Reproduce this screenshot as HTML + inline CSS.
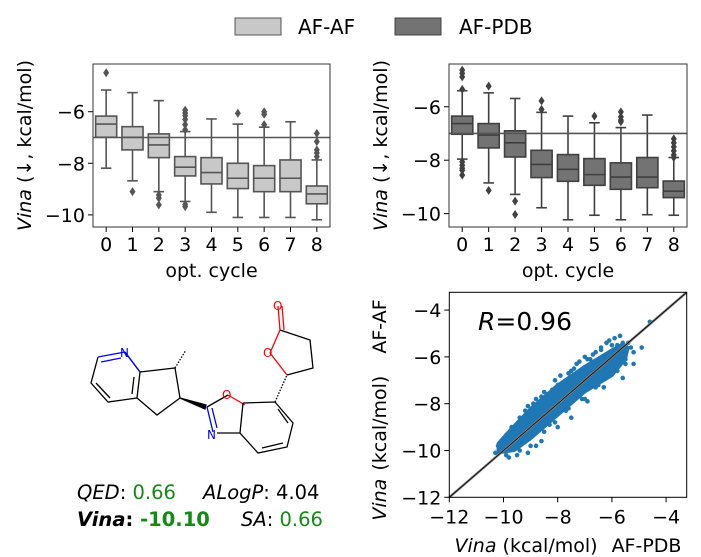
<!DOCTYPE html>
<html><head><meta charset="utf-8"><style>
body{margin:0;background:#fff;}
svg{display:block;font-family:"DejaVu Sans","Liberation Sans",sans-serif;}
</style></head><body>
<svg id="fig" width="701" height="557" viewBox="0 0 701 557" xmlns="http://www.w3.org/2000/svg">
<g>
<rect x="235" y="18" width="46" height="17" fill="#c8c8c8" stroke="#555"/>
<text x="298" y="34" font-size="20">AF-AF</text>
<rect x="395" y="18" width="46" height="17" fill="#737373" stroke="#404040"/>
<text x="459" y="34" font-size="20">AF-PDB</text>
</g>
<g id="left"></g>
<g id="right"></g>
<g id="scatter"></g>
<g stroke="#000" stroke-width="1.3" fill="none">
<polyline points="98,357 91,383 108,402 137,398 140,372 125,352" />
<line x1="98" y1="357" x2="125" y2="352" stroke="#0000ff"/>
<line x1="101" y1="362" x2="121" y2="358" stroke="#0000ff"/>
<line x1="96" y1="383" x2="110" y2="398"/>
<line x1="134" y1="377" x2="132" y2="394"/>
<line x1="125" y1="352" x2="140" y2="372" stroke="#0000ff"/>
<polyline points="140,372 175,368 180,398 157,415 137,398"/>
<path d="M175,368 L186,350" stroke-dasharray="1.5,1.5"/>
<path d="M180,398 L206,405 L205,409 Z" fill="#000"/>
<line x1="207" y1="407" x2="228" y2="395" stroke="#000"/>
<line x1="228" y1="395" x2="245" y2="405" stroke="#ff0000"/>
<line x1="207" y1="407" x2="213" y2="432" stroke="#0000ff"/>
<line x1="212" y1="408" x2="217" y2="428" stroke="#0000ff"/>
<line x1="217" y1="433" x2="240" y2="433"/>
<polyline points="243,403 275,402 293,423 287,447 258,453 240,433 243,403"/>
<line x1="278" y1="409" x2="288" y2="423"/>
<line x1="262" y1="448" x2="283" y2="443"/>
<path d="M275,402 L287,375" stroke-dasharray="1.5,1.5"/>
<polyline points="287,375 270,353" stroke="#ff0000"/>
<polyline points="287,375 313,368 310,340 280,330"/>
<line x1="280" y1="330" x2="270" y2="353" stroke="#ff0000"/>
<line x1="280" y1="330" x2="278" y2="306" stroke="#ff0000"/>
<line x1="284" y1="330" x2="282" y2="306" stroke="#ff0000"/>
</g>
<g font-size="12">
<text x="120" y="357" fill="#0000ff">N</text>
<text x="222" y="399" fill="#ff0000">O</text>
<text x="207" y="439" fill="#0000ff">N</text>
<text x="263" y="357" fill="#ff0000">O</text>
<text x="273" y="310" fill="#ff0000">O</text>
</g>
<g font-size="19.5">
<text x="77" y="499"><tspan font-style="italic">QED</tspan>: <tspan fill="#138a13">0.66</tspan></text>
<text x="203" y="499"><tspan font-style="italic">ALogP</tspan>: 4.04</text>
<text x="77" y="526" font-weight="bold"><tspan font-style="italic">Vina</tspan>: <tspan fill="#138a13">-10.10</tspan></text>
<text x="241" y="526"><tspan font-style="italic">SA</tspan>: <tspan fill="#138a13">0.66</tspan></text>
</g>
</svg>
<script>
const categories=[0,1,2,3,4,5,6,7,8];
const afafWhiskerHigh=[-5.16,-5.26,-5.57,-6.77,-6.28,-6.48,-6.6,-6.39,-7.87];
const afafQ3=[-6.17,-6.58,-6.86,-7.74,-7.78,-8.0,-8.09,-7.87,-8.88];
const afafMedian=[-6.48,-6.99,-7.29,-8.15,-8.36,-8.58,-8.58,-8.58,-9.19];
const afafQ1=[-6.99,-7.48,-7.78,-8.49,-8.8,-8.98,-9.1,-9.1,-9.57];
const afafWhiskerLow=[-8.19,-8.68,-9.1,-9.48,-9.9,-10.1,-10.1,-10.1,-10.19];
const afafOutliers=[[-4.49],[-9.1],[-9.23,-9.35,-9.61],[-5.94,-6.05,-6.15,-6.3,-6.5,-6.7,-9.6,-9.68],[],[-6.06],[-6.0,-6.1,-6.5],[],[-6.84,-7.16,-7.48,-7.6,-7.74]];
const pdbWhiskerHigh=[-5.4,-5.48,-5.69,-6.21,-6.35,-6.6,-6.78,-6.31,-7.9];
const pdbQ3=[-6.35,-6.63,-6.9,-7.63,-7.79,-7.94,-8.1,-7.9,-8.78];
const pdbMedian=[-6.63,-7.06,-7.35,-8.16,-8.34,-8.54,-8.63,-8.63,-9.16];
const pdbQ1=[-7.03,-7.54,-7.88,-8.65,-8.79,-8.94,-9.09,-9.03,-9.4];
const pdbWhiskerLow=[-7.96,-8.85,-9.28,-9.78,-10.23,-10.06,-10.23,-10.04,-10.06];
const pdbOutliers=[[-4.63,-4.75,-4.88,-5.35,-8.06,-8.19,-8.3,-8.38,-8.56],[-5.23,-9.13],[-9.53,-10.03],[-5.78,-6.1],[],[-6.35],[-6.19,-6.38,-6.5,-6.56],[],[-7.2,-7.35,-7.5,-7.65,-7.8,-7.9]];
const boxYTicks=[-6,-8,-10];
const refLine=-7;
const scatterTicks=[-12,-10,-8,-6,-4];
const cloudX=[-10.2,-9.9,-9.0,-8.0,-7.0,-6.0,-5.6,-5.4,-5.5,-6.0,-7.0,-8.0,-9.0,-9.6,-10.2];
const cloudY=[-9.7,-9.3,-8.2,-7.2,-6.4,-5.7,-5.45,-5.6,-6.1,-6.8,-7.5,-8.5,-9.5,-10.0,-10.1];
const ptsX=[-10.3,-10.2,-10.0,-9.8,-9.6,-9.5,-9.3,-9.2,-9.0,-8.9,-8.7,-8.6,-8.4,-8.2,-8.0,-7.8,-7.6,-7.4,-7.2,-7.0,-6.8,-6.6,-6.4,-6.2,-6.0,-5.8,-5.6,-5.5,-5.3,-5.2,-4.9,-4.6,-5.2,-5.6,-6.3,-6.9,-7.5,-8.0,-8.6,-9.4,-9.9,-8.3,-7.7,-7.1,-6.6,-9.1,-8.8,
 -9.7,-9.4,-9.1,-8.8,-8.5,-8.1,-7.9,-7.5,-7.3,-6.9,-6.7,-6.4,-6.1,-5.9,-5.7,-5.4,-6.5,-7.0,-7.6,-8.1,-8.5,-9.0,-9.5,-9.8,-6.2,-6.8,-7.3,-7.9,-8.4,-8.9,-9.3,-10.1,-5.5,-5.8];
const ptsY=[-10.1,-9.8,-9.5,-9.6,-9.4,-8.9,-8.8,-8.3,-8.5,-8.0,-8.1,-7.7,-7.6,-7.4,-7.2,-7.3,-6.7,-6.5,-6.2,-6.0,-6.1,-5.8,-5.6,-5.4,-5.5,-5.5,-5.4,-6.1,-5.6,-5.8,-5.6,-4.5,-6.3,-6.9,-7.3,-7.9,-8.6,-9.0,-9.6,-10.0,-10.2,-8.9,-8.3,-7.8,-7.3,-10.1,-9.8,
 -9.0,-8.6,-8.1,-7.8,-7.5,-7.0,-6.8,-6.6,-6.3,-6.1,-5.9,-5.7,-5.3,-5.2,-5.1,-5.4,-7.2,-7.8,-8.2,-8.8,-9.2,-9.8,-10.2,-10.3,-6.6,-7.0,-7.5,-8.0,-8.6,-9.1,-9.7,-10.0,-6.3,-6.6];
const NS='http://www.w3.org/2000/svg';
function mk(parent,tag,attrs,txt){const e=document.createElementNS(NS,tag);for(const k in attrs)e.setAttribute(k,attrs[k]);if(txt!==undefined)e.textContent=txt;parent.appendChild(e);return e;}
function boxPanel(g,x0,x1,y0,y1,dmin,dmax,fill,edge,hi,q3,med,q1,lo,outs){
  const ys=v=>y0+(dmax-v)/(dmax-dmin)*(y1-y0);
  const step=(x1-x0)/categories.length;
  const xs=i=>x0+(i+0.5)*step;
  const w=step*0.8;
  categories.forEach((c,i)=>{
    const cx=xs(i);
    const wl=mk(g,'line',{x1:cx,x2:cx,y1:ys(hi[i]),y2:ys(q3[i]),stroke:edge,'stroke-width':1.6});
    
    
    const wl2=mk(g,'line',{x1:cx,x2:cx,y1:ys(q1[i]),y2:ys(lo[i]),stroke:edge,'stroke-width':1.6});
    
    
    [hi[i],lo[i]].forEach(v=>{const cap=mk(g,'line',{x1:cx-w/4,x2:cx+w/4,y1:ys(v),y2:ys(v),stroke:edge,'stroke-width':1.6});
      
      });
    const b=mk(g,'rect',{x:cx-w/2,y:ys(q3[i]),width:w,height:ys(q1[i])-ys(q3[i]),fill:fill,stroke:edge,'stroke-width':1.6});
    
    
    const m=mk(g,'line',{x1:cx-w/2,x2:cx+w/2,y1:ys(med[i]),y2:ys(med[i]),stroke:edge,'stroke-width':1.6});
    
    
    outs[i].forEach(v=>{const y=ys(v);const d=mk(g,'path',{d:`M${cx},${y-4.5}L${cx+3},${y}L${cx},${y+4.5}L${cx-3},${y}Z`,fill:edge});
      
      });
    const t=mk(g,'line',{x1:cx,x2:cx,y1:y1,y2:y1+5,stroke:'#000'});
    
    
    const tl=mk(g,'text',{x:cx,y:y1+24,'font-size':19,'text-anchor':'middle'},String(c));
    
    
  });
  const rl=mk(g,'line',{x1:x0,x2:x1,y1:ys(refLine),y2:ys(refLine),stroke:'#555','stroke-width':1.6});
  
  
  boxYTicks.forEach(v=>{const t=mk(g,'line',{x1:x0-5,x2:x0,y1:ys(v),y2:ys(v),stroke:'#000'});
    
    
    const tl=mk(g,'text',{x:x0-8,y:ys(v)+7,'font-size':19,'text-anchor':'end'},'\u2212'+Math.abs(v));
    
    });
  const fr=mk(g,'rect',{x:x0,y:y0,width:x1-x0,height:y1-y0,fill:'none',stroke:'#333','stroke-width':1});
  
  
  const xl=mk(g,'text',{x:(x0+x1)/2,y:y1+50,'font-size':19,'text-anchor':'middle'},'opt. cycle');
  
  
  const yl=mk(g,'text',{transform:`translate(${x0-62},${(y0+y1)/2}) rotate(-90)`,'font-size':19,'text-anchor':'middle'});
  
  
  mk(yl,'tspan',{'font-style':'italic'},'Vina');mk(yl,'tspan',{},' (\u2193, kcal/mol)');
}
boxPanel(document.getElementById('left'),93,330,64,227,-10.47,-4.15,'#c8c8c8','#555',afafWhiskerHigh,afafQ3,afafMedian,afafQ1,afafWhiskerLow,afafOutliers);
boxPanel(document.getElementById('right'),449,687,64,227,-10.5,-4.4,'#737373','#404040',pdbWhiskerHigh,pdbQ3,pdbMedian,pdbQ1,pdbWhiskerLow,pdbOutliers);
(function(){
  const g=document.getElementById('scatter');
  const x0=449.3,x1=686.7,y0=292.3,y1=497.3,dmin=-12,dmax=-3.24;
  const xs=v=>x0+(v-dmin)/(dmax-dmin)*(x1-x0);
  const ys=v=>y1-(v-dmin)/(dmax-dmin)*(y1-y0);
  const cl=mk(g,'path',{d:cloudX.map((v,i)=>(i?'L':'M')+xs(v)+','+ys(cloudY[i])).join('')+'Z',fill:'#1f77b4',stroke:'#1f77b4','stroke-width':3,'stroke-linejoin':'round'});
  
  
  ptsX.forEach((v,i)=>{const c=mk(g,'circle',{cx:xs(v),cy:ys(ptsY[i]),r:2.3,fill:'#1f77b4'});
    
    });
  const d1=mk(g,'line',{x1:xs(-12),y1:ys(-12),x2:xs(dmax),y2:ys(dmax),stroke:'#808080','stroke-width':2.5});
  
  
  const d2=mk(g,'line',{x1:xs(-12),y1:ys(-12),x2:xs(dmax),y2:ys(dmax),stroke:'#000','stroke-width':0.8});
  
  
  scatterTicks.forEach(v=>{
    const t=mk(g,'line',{x1:xs(v),x2:xs(v),y1:y1,y2:y1+5,stroke:'#000'});
    
    
    const tl=mk(g,'text',{x:xs(v),y:y1+26,'font-size':19,'text-anchor':'middle'},'\u2212'+Math.abs(v));
    
    
    const t2=mk(g,'line',{x1:x0-5,x2:x0,y1:ys(v),y2:ys(v),stroke:'#000'});
    
    
    const tl2=mk(g,'text',{x:x0-8,y:ys(v)+7,'font-size':19,'text-anchor':'end'},'\u2212'+Math.abs(v));
    
    
  });
  const fr=mk(g,'rect',{x:x0,y:y0,width:x1-x0,height:y1-y0,fill:'none',stroke:'#000','stroke-width':1});
  
  
  const r=mk(g,'text',{x:478,y:330,'font-size':25});
  
  
  mk(r,'tspan',{'font-style':'italic'},'R');mk(r,'tspan',{},'=0.96');
  const xl=mk(g,'text',{x:568,y:552,'font-size':19,'text-anchor':'middle'});
  
  
  mk(xl,'tspan',{'font-style':'italic'},'Vina');mk(xl,'tspan',{},' (kcal/mol)');mk(xl,'tspan',{dx:14},'AF-PDB');
  const yl=mk(g,'text',{transform:'translate(386,410) rotate(-90)','font-size':19,'text-anchor':'middle'});
  
  
  mk(yl,'tspan',{'font-style':'italic'},'Vina');mk(yl,'tspan',{dx:8},'(kcal/mol)');mk(yl,'tspan',{dx:22},'AF-AF');
})();
</script>
</body></html>
